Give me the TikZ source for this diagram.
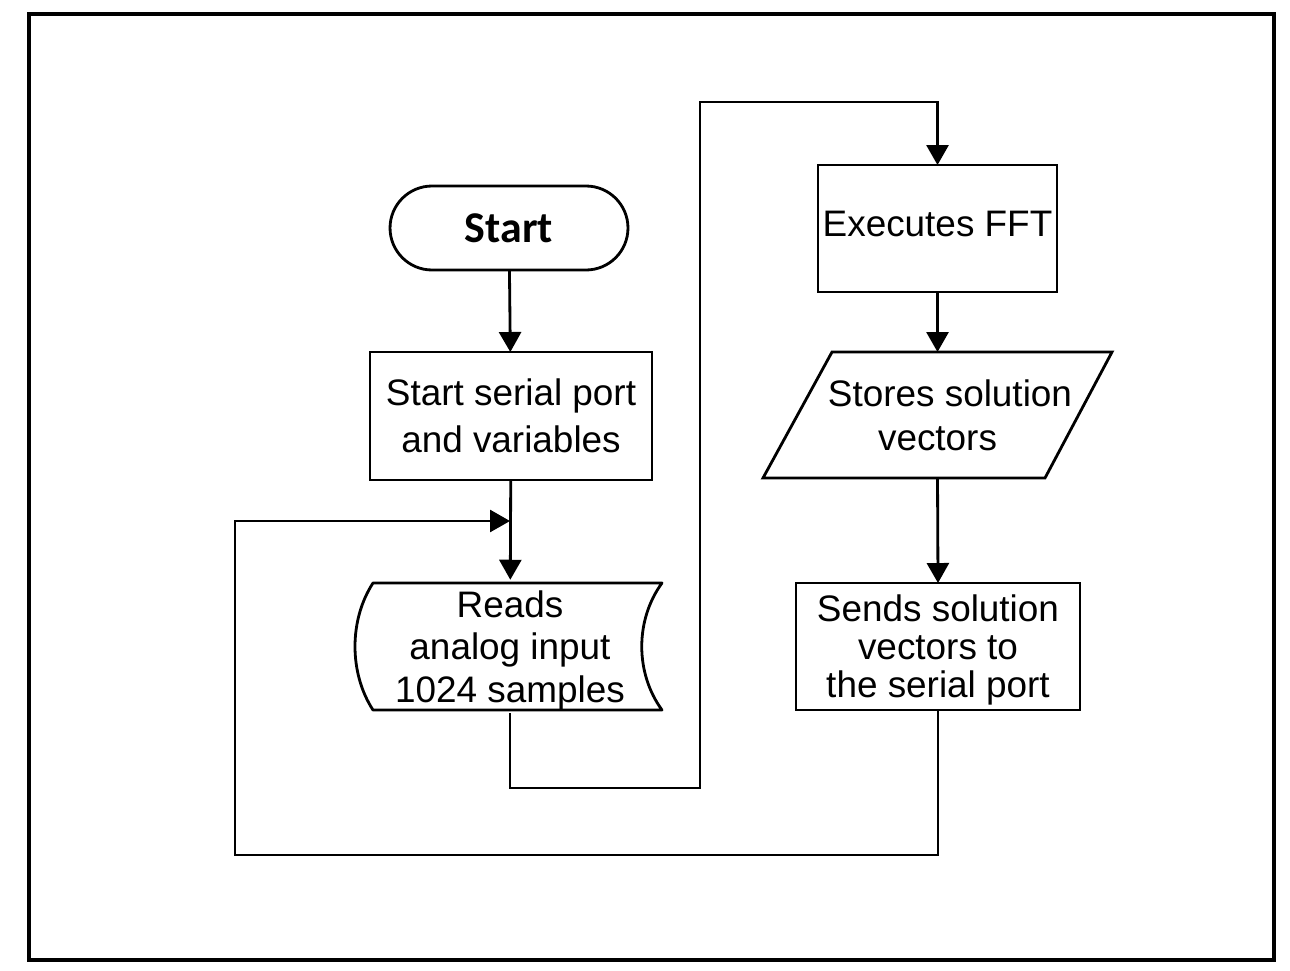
\documentclass[tikz,border=0pt]{standalone}
\usepackage{fontspec}
\setmainfont{Liberation Sans}
\newfontfamily\startfont{Carlito}
\usetikzlibrary{arrows.meta}
\newcommand{\mystack}[1]{\begin{tabular}{@{}c@{}}#1\end{tabular}}
\newcommand{\shiftby}[2]{\raisebox{#1}[\height][\depth]{#2}}
\begin{document}
\begin{tikzpicture}[x=0.02cm,y=-0.02cm,
  lw/.style={line width=1.6pt},
  box/.style={lw,draw=black,rectangle,outer sep=0pt,inner sep=2pt,align=center,font=\fontsize{21}{25}\selectfont},
  plain/.style={rectangle,outer sep=0pt,inner sep=2pt,align=center,font=\fontsize{21}{25}\selectfont},
  arr/.style={lw,-{Triangle[length=0.4cm,width=0.44cm]}}]
\useasboundingbox (0,0) rectangle (1290,970);
\draw[line width=2pt] (29,14) rectangle (1274,960);

\node[box,rounded corners=0.84cm,minimum width=4.76cm,minimum height=1.68cm] (start) at (509,228)
  {\startfont\bfseries\fontsize{25}{28}\selectfont Start};
\node[box,minimum width=5.64cm,minimum height=2.56cm,font=\fontsize{21}{26.5}\selectfont] (serial) at (511,416)
  {Start serial port\\and variables};
\node[plain,minimum width=6.08cm,minimum height=2.54cm,font=\fontsize{21}{24}\selectfont] (read) at (510,646.5)
  {\shiftby{-0.1cm}{\mystack{Reads\\analog input\\1024 samples}}};
\draw[lw,line join=round] (373,583) -- (662,583) .. controls (635,620) and (635,673) .. (662,710)
  -- (373,710) .. controls (349,673) and (349,620) .. (373,583) -- cycle;

\node[box,minimum width=4.78cm,minimum height=2.54cm] (exec) at (937.5,228.5) {\shiftby{0.1cm}{Executes FFT}};
\node[plain,minimum width=5.4cm,minimum height=2.52cm] (store) at (937.5,415)
  {\hspace*{0.5cm}Stores solution\\vectors};
\draw[lw,line join=miter] (832,352) -- (1112,352) -- (1045,478) -- (763,478) -- cycle;
\node[box,minimum width=5.68cm,minimum height=2.54cm,font=\fontsize{21}{21.5}\selectfont] (send) at (938,646.5)
  {\shiftby{-0.1cm}{\mystack{Sends solution\\vectors to\\the serial port}}};

\coordinate (c1) at (700,788);
\coordinate (c2) at (700,102);
\coordinate (c3) at (235,855);
\coordinate (m) at (510,521);

\draw[arr] (start) -- (serial);
\draw[arr] (serial) -- (read);
\draw[arr] (read.south) |- (c1) -- (c2) -| (exec.north);
\draw[arr] (exec) -- (store);
\draw[arr] (store.south) -- (send.north);
\draw[arr] (send.south) |- (c3) |- (m);
\end{tikzpicture}
\end{document}
